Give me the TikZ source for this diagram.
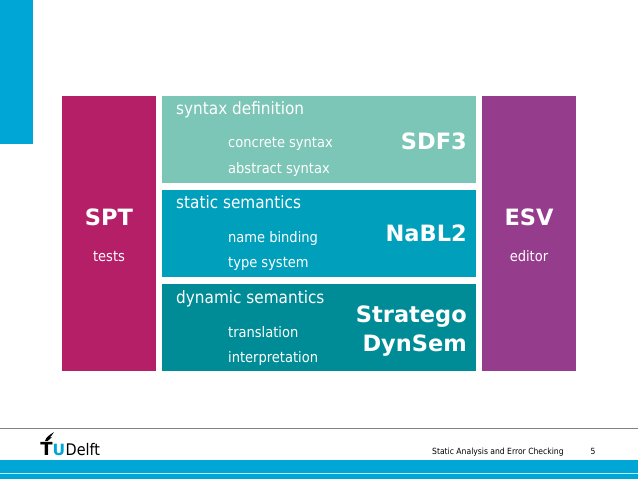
\documentclass[tikz,border=0pt]{standalone}
\usepackage{fontspec}
\setmainfont{DejaVu Sans}
\newfontfamily\labelfont{DejaVu Sans Condensed}
\usetikzlibrary{positioning}
\definecolor{deepmagenta}{HTML}{B41F68}
\definecolor{plum}{HTML}{963C8D}
\definecolor{mint}{HTML}{7CC6B7}
\definecolor{seablue}{HTML}{00A0BC}
\definecolor{deepteal}{HTML}{008C96}
\definecolor{delftblue}{HTML}{00A6D6}
\tikzset{
	side/.style={minimum width=94pt, minimum height=275pt, inner sep=0pt, outer sep=0pt},
	row/.style={minimum width=314pt, minimum height=87pt, inner sep=0pt, outer sep=0pt},
	head/.style={text=white, anchor=base west, inner sep=0pt, font=\labelfont\fontsize{17}{20}\selectfont},
	item/.style={text=white, anchor=base west, inner sep=0pt, font=\labelfont\fontsize{14.5}{17}\selectfont},
	usage/.style={item, anchor=base},
	tool/.style={text=white, inner sep=0pt, font=\bfseries\fontsize{22.5}{29}\selectfont},
	toolright/.style={tool, anchor=base east, align=right},
	foot/.style={inner sep=0pt, font=\labelfont\fontsize{8.5}{12}\selectfont}
}
\begin{document}
\begin{tikzpicture}[x=1pt, y=-1pt]

	\useasboundingbox (0,0) rectangle (638,479);
	\fill[white] (0,0) rectangle (638,479);

	\fill[delftblue] (0,0) rectangle (33,144);

	\node[side, fill=deepmagenta, anchor=north west] (spt) at (62,96) {};
	\node[row, fill=mint, anchor=north west] (syntax) at (162,96) {};
	\node[row, fill=seablue, below=7pt of syntax] (statics) {};
	\node[row, fill=deepteal, below=7pt of statics] (dynamics) {};
	\node[side, fill=plum, anchor=north west] (esv) at (482,96) {};

	\node[tool, anchor=base] (spt name) at (109,225.5) {SPT};
	\node[usage] (spt use) at (109,261.5) {tests};
	\node[tool, anchor=base] (esv name) at (529,225.5) {ESV};
	\node[usage] (esv use) at (529,261.5) {editor};

	\node[head] (syntax head) at (176,114) {syntax definition};
	\node[item] (concrete) at (228,147.5) {concrete syntax};
	\node[item] (abstract) at (228,173) {abstract syntax};
	\node[toolright] (sdf) at (467,149.5) {SDF3};

	\node[head] (statics head) at (176,208.5) {static semantics};
	\node[item] (binding) at (228,242) {name binding};
	\node[item] (types) at (228,267.5) {type system};
	\node[toolright] (nabl) at (467,241) {NaBL2};

	\node[head] (dynamics head) at (176,303.5) {dynamic semantics};
	\node[item] (translation) at (228,337) {translation};
	\node[item] (interpretation) at (228,362.5) {interpretation};
	\node[toolright] (stratego) at (467,322) {Stratego};
	\node[toolright] (dynsem) at (467,351) {DynSem};

	% footer
	\draw[line width=1pt, black!50] (0,428) -- (638,428);
	\fill[delftblue] (0,460) rectangle (638,479);
	\draw[line width=0.7pt, white!75!delftblue] (0,473) -- (638,473);

	\node[inner sep=0pt, anchor=base, font=\bfseries\fontsize{18}{20}\selectfont] (tu t) at (46.5,455.5) {T};
	\node[inner sep=0pt, anchor=base west, text=delftblue, font=\bfseries\fontsize{15.5}{20}\selectfont] (tu u) at (52.5,455.5) {U};
	\node[inner sep=0pt, anchor=base west, font=\labelfont\fontsize{16}{20}\selectfont] (delft) at (65.5,455.5) {Delft};
	\fill (45,441) .. controls (46,437) and (49.5,435) .. (54,432) .. controls (52.5,435) and (51,436) .. (49.5,437.5) -- (52,437) .. controls (50.5,439.5) and (48.5,439.5) .. (47.5,441) -- cycle;

	\node[foot, anchor=base west] (title) at (432,454) {Static Analysis and Error Checking};
	\node[foot, anchor=base] (page) at (593,454) {5};

\end{tikzpicture}
\end{document}
